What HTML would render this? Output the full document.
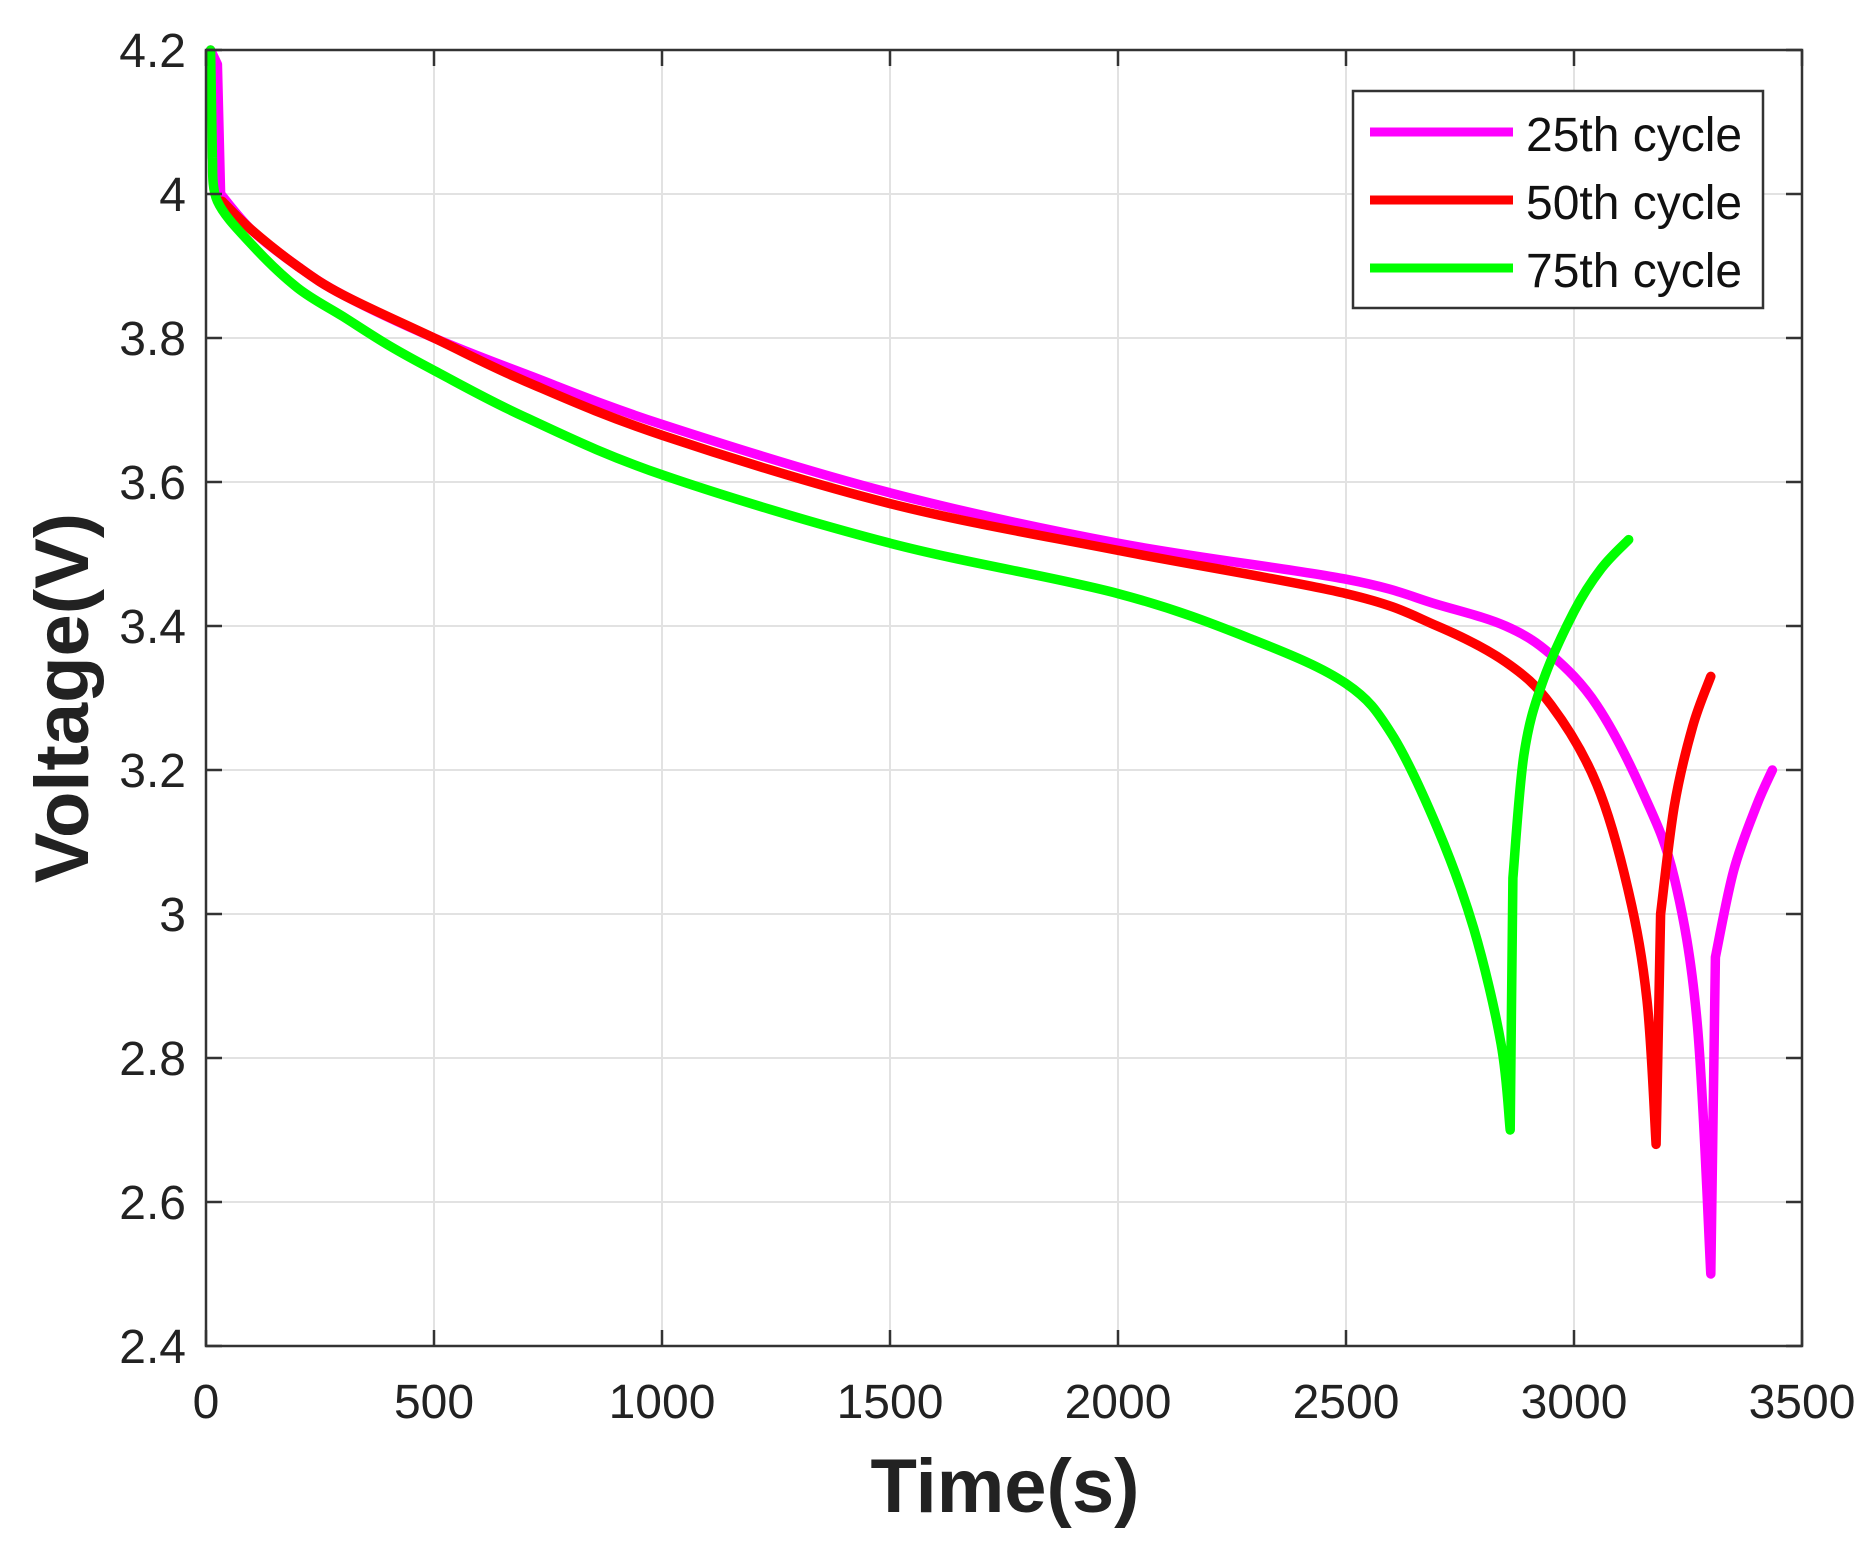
<!DOCTYPE html>
<html><head><meta charset="utf-8"><style>body{margin:0;background:#fff}svg{display:block}</style></head>
<body>
<svg id="s" width="1870" height="1562" xmlns="http://www.w3.org/2000/svg" font-family="Liberation Sans, Arial, sans-serif">
<g id="grid" stroke="#e2e2e2" stroke-width="2"></g>
<g id="curves" fill="none" stroke-width="9.5" stroke-linejoin="round" stroke-linecap="round"></g>
<g id="axes" stroke="#333" stroke-width="2.5" fill="none"></g>
<g id="labels" fill="#222" font-size="48"></g>
<text x="1005" y="1512" font-size="76" font-weight="bold" text-anchor="middle" fill="#222">Time(s)</text>
<text transform="translate(88,698) rotate(-90)" font-size="76" font-weight="bold" text-anchor="middle" fill="#222">Voltage(V)</text>
<rect x="1353" y="91" width="410" height="217" fill="#fff" stroke="#333" stroke-width="2.5"/>
<line x1="1370" y1="132" x2="1513" y2="132" stroke="#ff00ff" stroke-width="9"/>
<line x1="1370" y1="200" x2="1513" y2="200" stroke="#ff0000" stroke-width="9"/>
<line x1="1370" y1="268" x2="1513" y2="268" stroke="#00ff00" stroke-width="9"/>
<text x="1526" y="151" font-size="48" fill="#111">25th cycle</text>
<text x="1526" y="219" font-size="48" fill="#111">50th cycle</text>
<text x="1526" y="287" font-size="48" fill="#111">75th cycle</text>
</svg>
<script>
var L=206,R=1802,T=50,B=1346;
function X(t){return L+t*(R-L)/3500}
function Y(v){return T+(4.2-v)*720}
var ns="http://www.w3.org/2000/svg";
function el(p,n,a){var e=document.createElementNS(ns,n);for(var k in a)e.setAttribute(k,a[k]);document.getElementById(p).appendChild(e);return e}
for(var t=500;t<3500;t+=500)el("grid","line",{x1:X(t),x2:X(t),y1:T,y2:B});
for(var v=2.6;v<4.19;v+=0.2)el("grid","line",{x1:L,x2:R,y1:Y(v),y2:Y(v)});
el("axes","rect",{x:L,y:T,width:R-L,height:B-T});
for(var t=0;t<=3500;t+=500){var x=X(t);
 el("axes","line",{x1:x,x2:x,y1:B,y2:B-16});el("axes","line",{x1:x,x2:x,y1:T,y2:T+16});
 var e=el("labels","text",{x:x,y:1418,"text-anchor":"middle"});e.textContent=t;}
var vl=["2.4","2.6","2.8","3","3.2","3.4","3.6","3.8","4","4.2"];
for(var i=0;i<vl.length;i++){var y=Y(2.4+0.2*i);
 el("axes","line",{x1:L,x2:L+16,y1:y,y2:y});el("axes","line",{x1:R,x2:R-16,y1:y,y2:y});
 var e=el("labels","text",{x:186,y:y+17,"text-anchor":"end"});e.textContent=vl[i];}
function path(d,c,sharp){
 var P=d.map(function(p){return [X(p[0]),Y(p[1])]});
 var s="M"+P[0][0].toFixed(1)+","+P[0][1].toFixed(1);
 for(var i=0;i<P.length-1;i++){
  var p0=P[Math.max(0,i-1)],p1=P[i],p2=P[i+1],p3=P[Math.min(P.length-1,i+2)];
  if(sharp.indexOf(i)>=0)p0=p1; if(sharp.indexOf(i+1)>=0)p3=p2;
  var c1=[p1[0]+(p2[0]-p0[0])/6,p1[1]+(p2[1]-p0[1])/6],c2=[p2[0]-(p3[0]-p1[0])/6,p2[1]-(p3[1]-p1[1])/6];
  s+="C"+c1[0].toFixed(1)+","+c1[1].toFixed(1)+" "+c2[0].toFixed(1)+","+c2[1].toFixed(1)+" "+p2[0].toFixed(1)+","+p2[1].toFixed(1);}
 el("curves","path",{d:s,stroke:c})}
path([[10,4.2],[25,4.18],[32,4.0],[100,3.95],[200,3.9],[300,3.86],[500,3.8],[700,3.75],[1000,3.68],[1500,3.585],[2000,3.515],[2500,3.465],[2700,3.43],[2850,3.40],[2950,3.36],[3050,3.29],[3150,3.17],[3220,3.05],[3270,2.85],[3300,2.5],[3310,2.94],[3350,3.06],[3400,3.15],[3435,3.2]],"#ff00ff",[0,1,2,19,20]);
path([[35,3.99],[100,3.95],[200,3.9],[300,3.86],[500,3.8],[700,3.74],[1000,3.665],[1500,3.57],[2000,3.505],[2500,3.445],[2700,3.40],[2850,3.35],[2950,3.29],[3050,3.18],[3120,3.03],[3160,2.88],[3180,2.68],[3190,3.0],[3220,3.15],[3260,3.26],[3300,3.33]],"#ff0000",[16,17]);
path([[10,4.2],[14,4.05],[25,3.99],[100,3.93],[200,3.87],[300,3.83],[400,3.79],[500,3.755],[700,3.69],[1000,3.61],[1500,3.515],[2000,3.445],[2300,3.38],[2500,3.32],[2600,3.25],[2700,3.12],[2780,2.98],[2840,2.82],[2860,2.70],[2866,3.05],[2890,3.22],[2930,3.32],[3000,3.42],[3060,3.48],[3120,3.52]],"#00ff00",[0,1,18,19]);
</script>
</body></html>
